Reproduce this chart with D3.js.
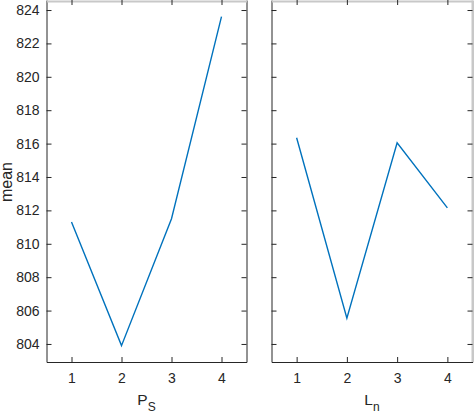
<!DOCTYPE html>
<html>
<head>
<meta charset="utf-8">
<script src="https://cdn.jsdelivr.net/npm/d3@7"></script>
<style>
  body { margin: 0; background: #fff; }
  svg { display: block; font-family: Arial, "Liberation Sans", sans-serif; }
</style>
</head>
<body>
<svg id="chart" width="474" height="413"></svg>
<script>
// data
const levels = [1, 2, 3, 4];
const psMean = [811.3, 803.9, 811.5, 823.6];
const lnMean = [816.35, 805.55, 816.05, 812.15];
const yTicks = [804, 806, 808, 810, 812, 814, 816, 818, 820, 822, 824];

const svg = d3.select("#chart");
const axisColor = "#262626";
const edgeColor = "#c8c8c8";

const y = d3.scaleLinear().domain([802.92, 824.6]).range([362, 0]);

function drawPanel({ left, right, values, showLabels, rightEdgeLight }) {
    const x = d3.scaleLinear().domain([0.5, 4.5]).range([left, right]);
    const g = svg.append("g");
    const top = y.range()[1], bottom = y.range()[0];

    // left axis with inward ticks
    const yAxis = d3.axisLeft(y).tickValues(yTicks).tickSizeInner(-5).tickSizeOuter(0)
        .tickPadding(7).tickFormat(showLabels ? d3.format("d") : () => "");
    g.append("g").attr("transform", `translate(${left},0)`).call(yAxis);

    // right edge ticks
    const yAxisR = d3.axisRight(y).tickValues(yTicks).tickSizeInner(-5).tickSizeOuter(0)
        .tickFormat(() => "");
    g.append("g").attr("class", "right").attr("transform", `translate(${right},0)`).call(yAxisR);

    // bottom axis
    const xAxis = d3.axisBottom(x).tickValues(levels).tickSizeInner(-5).tickSizeOuter(0)
        .tickPadding(11).tickFormat(d3.format("d"));
    g.append("g").attr("transform", `translate(0,${bottom})`).call(xAxis);

    // top edge ticks
    const xAxisT = d3.axisTop(x).tickValues(levels).tickSizeInner(-5).tickSizeOuter(0)
        .tickFormat(() => "");
    g.append("g").attr("class", "top").attr("transform", `translate(0,${top})`).call(xAxisT);

    g.selectAll(".domain").attr("stroke", axisColor).attr("stroke-width", 1);
    g.selectAll(".tick line").attr("stroke", axisColor).attr("stroke-width", 1);
    g.selectAll(".tick text").attr("fill", axisColor).style("font-size", "14px")
        .style("font-family", "Arial, 'Liberation Sans', sans-serif");
    g.select(".top .domain").attr("stroke", edgeColor).attr("stroke-width", 2).attr("transform", "translate(0,1)");
    if (rightEdgeLight) {
        g.select(".right .domain").attr("stroke", edgeColor).attr("stroke-width", 3);
    }

    const line = d3.line()
        .x((d, i) => x(levels[i]))
        .y(d => y(d));

    g.append("path")
        .datum(values)
        .attr("fill", "none")
        .attr("stroke", "#0072BD")
        .attr("stroke-width", 1.4)
        .attr("stroke-linejoin", "miter")
        .attr("d", line);

    return x;
}

const xL = drawPanel({ left: 46.5, right: 246.5, values: psMean, showLabels: true, rightEdgeLight: false });
const xR = drawPanel({ left: 271.5, right: 472.5, values: lnMean, showLabels: false, rightEdgeLight: true });

// axis labels
svg.append("text")
    .attr("transform", "translate(12,182) rotate(-90)")
    .attr("text-anchor", "middle")
    .attr("fill", axisColor)
    .style("font-size", "16px")
    .text("mean");

function subLabel(cx, main, sub) {
    const t = svg.append("text")
        .attr("x", cx)
        .attr("y", 405)
        .attr("text-anchor", "middle")
        .attr("fill", axisColor)
        .style("font-size", "15.5px");
    t.append("tspan").text(main);
    t.append("tspan").attr("dy", 6).style("font-size", "12px").text(sub);
}
subLabel((xL(0.5) + xL(4.5)) / 2, "P", "S");
subLabel((xR(0.5) + xR(4.5)) / 2, "L", "n");
</script>
</body>
</html>
